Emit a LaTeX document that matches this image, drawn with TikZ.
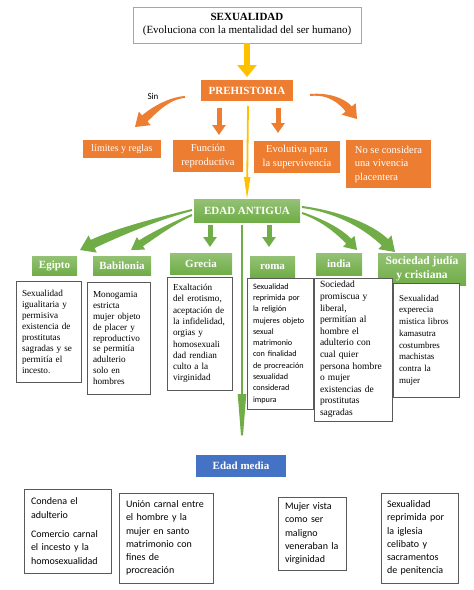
\documentclass[tikz,border=0pt]{standalone}
\usepackage{fontspec}
\setmainfont{Liberation Serif}
\newfontfamily\calib{Carlito}
\usetikzlibrary{arrows.meta,calc}
\definecolor{ora}{HTML}{ED7D31}
\definecolor{grn}{HTML}{70AD47}
\definecolor{blu}{HTML}{4472C4}
\definecolor{yel}{HTML}{FFC000}
\definecolor{bord}{HTML}{595959}
% tapered block arrow: color, start, control1, control2, tip, start half-width, end half-width, head half-width, head length
\newcommand\tarrow[9]{%
  \coordinate (tT) at (#5);
  \coordinate (tB) at ($(#5)!#9!(#4)$);
  \coordinate (p0u) at ($(#2)!#6!90:(#3)$);
  \coordinate (p0l) at ($(#2)!#6!-90:(#3)$);
  \coordinate (c1u) at ($(#3)!#6!90:(#4)$);
  \coordinate (c1l) at ($(#3)!#6!-90:(#4)$);
  \coordinate (c2u) at ($(#4)!#7!90:(tB)$);
  \coordinate (c2l) at ($(#4)!#7!-90:(tB)$);
  \coordinate (bu) at ($(tB)!#7!90:(tT)$);
  \coordinate (bl) at ($(tB)!#7!-90:(tT)$);
  \coordinate (hu) at ($(tB)!#8!90:(tT)$);
  \coordinate (hl) at ($(tB)!#8!-90:(tT)$);
  \fill[#1] (p0u) .. controls (c1u) and (c2u) .. (bu) -- (hu) -- (tT) -- (hl) -- (bl) .. controls (c2l) and (c1l) .. (p0l) -- cycle;
}
\begin{document}
\begin{tikzpicture}[x=1pt,y=-1pt,
  every node/.style={inner sep=0pt, outer sep=0pt},
  txtbox/.style={draw=bord, line width=0.7pt, fill=white, anchor=north west, inner xsep=6pt, inner ysep=2pt, align=left},
  orgbox/.style={fill=ora, text=white, anchor=north west, align=center, font=\fontsize{10.5}{13.5}\selectfont},
  grnhead/.style={top color=grn!75!white, bottom color=grn, text=white, anchor=north west, align=center, font=\bfseries\fontsize{11}{13}\selectfont},
  oarrow/.style={draw=ora, line width=5pt, -{Triangle[width=13pt,length=10pt]}},
  garrow/.style={draw=grn, line width=5pt, -{Triangle[width=13pt,length=10pt]}},
]
\useasboundingbox (0,0) rectangle (474,590);

% top
\node[draw=gray!70, line width=0.9pt, fill=white, minimum width=228pt, minimum height=36pt, anchor=north west, align=center, font=\fontsize{11}{13}\selectfont] (sex) at (133,7) {\textbf{SEXUALIDAD}\\(Evoluciona con la mentalidad del ser humano)};

\node[fill=ora, text=white, font=\bfseries\fontsize{11}{13}\selectfont, minimum width=92pt, minimum height=21pt, anchor=north west] (pre) at (201,80) {PREHISTORIA};

\node[font=\calib\fontsize{9}{11}\selectfont] (sin) at (153,96) {Sin};

\node[orgbox, minimum width=78pt, minimum height=18pt, font=\fontsize{10}{12}\selectfont] (lim) at (83,140) {límites y reglas};
\node[orgbox, minimum width=70pt, minimum height=32pt] (fun) at (173,140) {Función\\reproductiva};
\node[orgbox, minimum width=86pt, minimum height=32pt] (evo) at (254,141) {Evolutiva para\\la supervivencia};
\node[orgbox, align=left, minimum width=85pt, minimum height=48pt] (nos) at (346,140) {No se considera\\una vivencia\\placentera};

% edad antigua
\node[grnhead, minimum width=106pt, minimum height=23pt] (ant) at (194,199) {EDAD ANTIGUA};

\node[grnhead, minimum width=45pt, minimum height=19pt] (egi) at (32,256) {Egipto};
\node[grnhead, minimum width=58pt, minimum height=19pt] (bab) at (93,256) {Babilonia};
\node[grnhead, minimum width=62pt, minimum height=21pt] (gre) at (170,253) {Grecia};
\node[grnhead, minimum width=45pt, minimum height=21pt] (rom) at (250,256) {roma};
\node[grnhead, minimum width=46pt, minimum height=22pt] (ind) at (316,253) {india};
\node[grnhead, minimum width=88pt, minimum height=32pt, font=\bfseries\fontsize{11.5}{14}\selectfont] (soc) at (378,253) {Sociedad judía\\y cristiana};

\node[txtbox, text width=53pt, minimum height=101pt, font=\fontsize{9.2}{11}\selectfont] (egt) at (16,281)
 {Sexualidad\\igualitaria y\\permisiva\\existencia de\\prostitutas\\sagradas y se\\permitía el\\incesto.};
\node[txtbox, text width=51pt, minimum height=112pt, font=\fontsize{9.2}{10.8}\selectfont] (bat) at (87,282)
 {Monogamia\\estricta\\mujer objeto\\de placer y\\reproductivo\\se permitía\\adulterio\\solo en\\hombres};
\node[txtbox, text width=53pt, minimum height=113pt, font=\fontsize{9.2}{11.3}\selectfont] (grt) at (167,277)
 {Exaltación\\del erotismo,\\aceptación de\\la infidelidad,\\orgias y\\homosexuali\\dad rendian\\culto a la\\virginidad};
\node[txtbox, text width=54pt, minimum height=131pt, font=\calib\fontsize{8.2}{11.3}\selectfont] (rot) at (247,278)
 {Sexualidad\\reprimida por\\la religión\\mujeres objeto\\sexual\\matrimonio\\con finalidad\\de procreación\\sexualidad\\considerad\\impura};
\node[txtbox, text width=66pt, minimum height=143pt, font=\fontsize{9.5}{11.6}\selectfont] (int) at (314,278)
 {Sociedad\\promiscua y\\liberal,\\permitían al\\hombre el\\adulterio con\\cual quier\\persona hombre\\o mujer\\existencias de\\prostitutas\\sagradas};
\node[txtbox, text width=54pt, minimum height=114pt, font=\fontsize{9}{11.7}\selectfont] (sot) at (393,283)
 {Sexualidad\\experecia\\mistica libros\\kamasutra\\costumbres\\machistas\\contra la\\mujer};

% edad media
\node[fill=blu, text=white, font=\bfseries\fontsize{11}{13}\selectfont, minimum width=90pt, minimum height=22pt, anchor=north west] (med) at (196,455) {Edad media};

\node[txtbox, inner xsep=7pt, text width=73pt, minimum height=84pt, font=\calib\fontsize{10}{13.3}\selectfont] (m1) at (24,489)
 {Condena el\\adulterio\\[6pt]Comercio carnal\\el incesto y la\\homosexualidad};
\node[txtbox, inner xsep=7pt, text width=80pt, minimum height=90pt, font=\calib\fontsize{10}{13.3}\selectfont] (m2) at (119,493)
 {Unión carnal entre\\el hombre y la\\mujer en santo\\matrimonio con\\fines de\\procreación};
\node[txtbox, inner xsep=7pt, text width=54pt, minimum height=73pt, font=\calib\fontsize{10}{13.3}\selectfont] (m3) at (278,497)
 {Mujer vista\\como ser\\maligno\\veneraban la\\virginidad};
\node[txtbox, inner xsep=6pt, text width=65pt, minimum height=90pt, font=\calib\fontsize{10}{13.3}\selectfont] (m4) at (381,493)
 {Sexualidad\\reprimida por\\la iglesia\\celibato y\\sacramentos\\de penitencia};

% yellow arrows
\draw[yel, line width=6pt, -{Triangle[width=19pt,length=12pt]}] (sex.south) -- ($(pre.north)+(0,-3)$);
\draw[yel, line width=1.8pt, -{Triangle[width=6pt,length=22pt]}] ($(pre.south)+(1,5)$) -- (ant.north);

% orange arrows
\coordinate (sinS) at ($(pre.west)+(-16,6.5)$);
\coordinate (sinT) at ($(lim.north)+(13,-13)$);
\tarrow{ora}{sinS}{168,98}{152,112}{sinT}{1pt}{4pt}{9pt}{13pt}
\draw[oarrow] ($(pre.south)+(-28,7)$) -- ($(fun.north)+(11,-5)$);
\draw[oarrow] ($(pre.south)+(31,7)$) -- ($(evo.north)+(-19,-8)$);
\coordinate (nosS) at ($(pre.east)+(17,4.5)$);
\coordinate (nosT) at ($(nos.north west)+(11,-21)$);
\tarrow{ora}{nosS}{330,93}{343,102}{nosT}{1pt}{4pt}{9pt}{13pt}

% green arrows
\coordinate (egS) at ($(ant.west)+(-2,-0.5)$);
\coordinate (egT) at ($(egi.north east)+(3,-6)$);
\tarrow{grn}{egS}{160,218}{118,232}{egT}{1pt}{4.5pt}{9.5pt}{14pt}
\coordinate (baS) at ($(ant.west)+(-2,4.5)$);
\coordinate (baT) at ($(bab.north)+(9,-6)$);
\tarrow{grn}{baS}{175,222}{152,236}{baT}{1pt}{3.5pt}{7.5pt}{12pt}
\draw[garrow] ($(ant.south)+(-37,3)$) -- ($(gre.north)+(9,-6)$);
\draw[garrow] ($(ant.south)+(22,3)$) -- ($(rom.north)+(-3.5,-9)$);
\coordinate (inS) at ($(ant.east)+(2,2.5)$);
\coordinate (inT) at ($(ind.north east)+(-5,-3)$);
\tarrow{grn}{inS}{320,219}{338,230}{inT}{1pt}{3.5pt}{8pt}{12pt}
\coordinate (soS) at ($(ant.east)+(2,-3.5)$);
\coordinate (soT) at ($(soc.north)+(-27,-1)$);
\tarrow{grn}{soS}{340,212}{370,228}{soT}{1pt}{4.5pt}{9.5pt}{14pt}
\draw[grn, line width=2pt, -{Triangle[width=8pt,length=55pt]}] ($(ant.south)+(-5,3)$) -- ($(med.north)+(1,-6)$);
\end{tikzpicture}
\end{document}
